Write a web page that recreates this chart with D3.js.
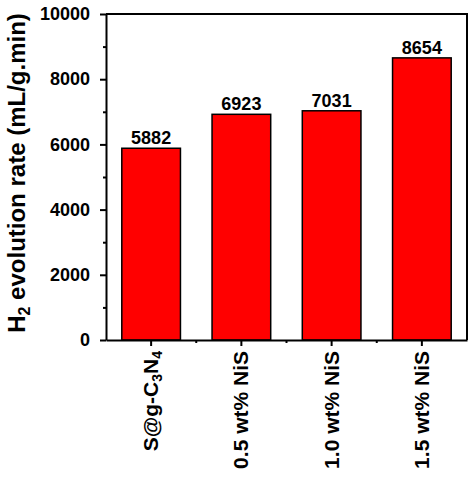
<!DOCTYPE html>
<html>
<head>
<meta charset="utf-8">
<script src="https://cdn.jsdelivr.net/npm/d3@7"></script>
<style>
  body { margin: 0; background: #fff; }
  text { font-family: Arial, "Liberation Sans", sans-serif; font-weight: bold; fill: #000; }
</style>
</head>
<body>
<div id="chart"></div>
<script>
// sample names: [main, subscript, main, subscript...] pieces
const samples = [
    [["S@g-C", false], ["3", true], ["N", false], ["4", true]],
    [["0.5 wt% NiS", false]],
    [["1.0 wt% NiS", false]],
    [["1.5 wt% NiS", false]]
];
const rates = [5882, 6923, 7031, 8654];
const yTicks = [0, 2000, 4000, 6000, 8000, 10000];

const width = 474;
const height = 481;
const plotLeft = 106, plotRight = 467, plotTop = 14, plotBottom = 340;

const svg = d3.select("#chart")
    .append("svg")
        .attr("width", width)
        .attr("height", height);

const x = d3.scaleBand()
    .domain(d3.range(rates.length))
    .range([plotLeft, plotRight])
    .paddingInner(0.35)
    .paddingOuter(0.175);

const y = d3.scaleLinear()
    .domain([0, 10000])
    .range([plotBottom, plotTop]);

// bars
svg.selectAll("rect.bar")
    .data(rates)
    .enter().append("rect")
        .attr("class", "bar")
        .attr("x", (d, i) => x(i))
        .attr("y", d => y(d))
        .attr("width", x.bandwidth())
        .attr("height", d => y(0) - y(d))
        .attr("fill", "#ff0000")
        .attr("stroke", "#000")
        .attr("stroke-width", 1.5);

// value labels
svg.selectAll("text.val")
    .data(rates)
    .enter().append("text")
        .attr("class", "val")
        .attr("x", (d, i) => x(i) + x.bandwidth() / 2)
        .attr("y", d => y(d) - 4)
        .attr("text-anchor", "middle")
        .attr("font-size", 18)
        .text(d => d);

// minor y ticks
svg.append("g")
    .attr("transform", `translate(${plotLeft},0)`)
    .call(d3.axisLeft(y).tickValues(d3.range(1000, 10000, 2000)).tickSize(3).tickFormat(""))
    .call(g => g.select(".domain").remove())
    .call(g => g.selectAll("line").attr("stroke-width", 2));

// major y axis
svg.append("g")
    .attr("transform", `translate(${plotLeft},0)`)
    .call(d3.axisLeft(y).tickValues(yTicks).tickFormat(d3.format("d"))
        .tickSize(6).tickPadding(10).tickSizeOuter(0))
    .call(g => g.select(".domain").attr("stroke-width", 2))
    .call(g => g.selectAll("line").attr("stroke-width", 2))
    .call(g => g.selectAll("text").attr("font-size", 18).attr("font-family", null));

// x axis: major ticks at bar centres, minor between
const xMinor = d3.range(1, rates.length).map(i => (x(i - 1) + x(i) + x.bandwidth()) / 2);
svg.append("g")
    .selectAll("line")
    .data(xMinor)
    .enter().append("line")
        .attr("x1", d => d).attr("x2", d => d)
        .attr("y1", plotBottom).attr("y2", plotBottom + 3)
        .attr("stroke", "#000").attr("stroke-width", 2);

svg.append("g")
    .attr("transform", `translate(0,${plotBottom})`)
    .call(d3.axisBottom(x).tickSize(6).tickSizeOuter(0).tickFormat(""))
    .call(g => g.select(".domain").attr("stroke-width", 2))
    .call(g => g.selectAll("line").attr("stroke-width", 2));

// top and right frame
svg.append("path")
    .attr("d", `M${plotLeft},${plotTop}H${plotRight}V${plotBottom}`)
    .attr("fill", "none")
    .attr("stroke", "#000")
    .attr("stroke-width", 2);

// category labels, rotated
const labels = svg.selectAll("text.cat")
    .data(samples)
    .enter().append("text")
        .attr("class", "cat")
        .attr("font-size", 21)
        .attr("text-anchor", "end")
        .attr("transform", (d, i) => `translate(${x(i) + x.bandwidth() / 2 + 7},${plotBottom + 11}) rotate(-90)`);

labels.each(function(parts) {
    const t = d3.select(this);
    parts.forEach(([s, sub], j) => {
        const prevSub = j > 0 && parts[j - 1][1];
        t.append("tspan")
            .attr("font-size", sub ? 14 : 21)
            .attr("dy", sub ? "0.3em" : (prevSub ? "-0.2em" : null))
            .text(s);
    });
});

// y axis title
const yt = svg.append("text")
    .attr("font-size", 24)
    .attr("text-anchor", "middle")
    .attr("transform", `translate(25,173) rotate(-90)`);
yt.append("tspan").text("H");
yt.append("tspan").attr("font-size", 16).attr("dy", "0.3em").text("2");
yt.append("tspan").attr("dy", "-0.2em").text(" evolution rate (mL/g.min)");
</script>
</body>
</html>
